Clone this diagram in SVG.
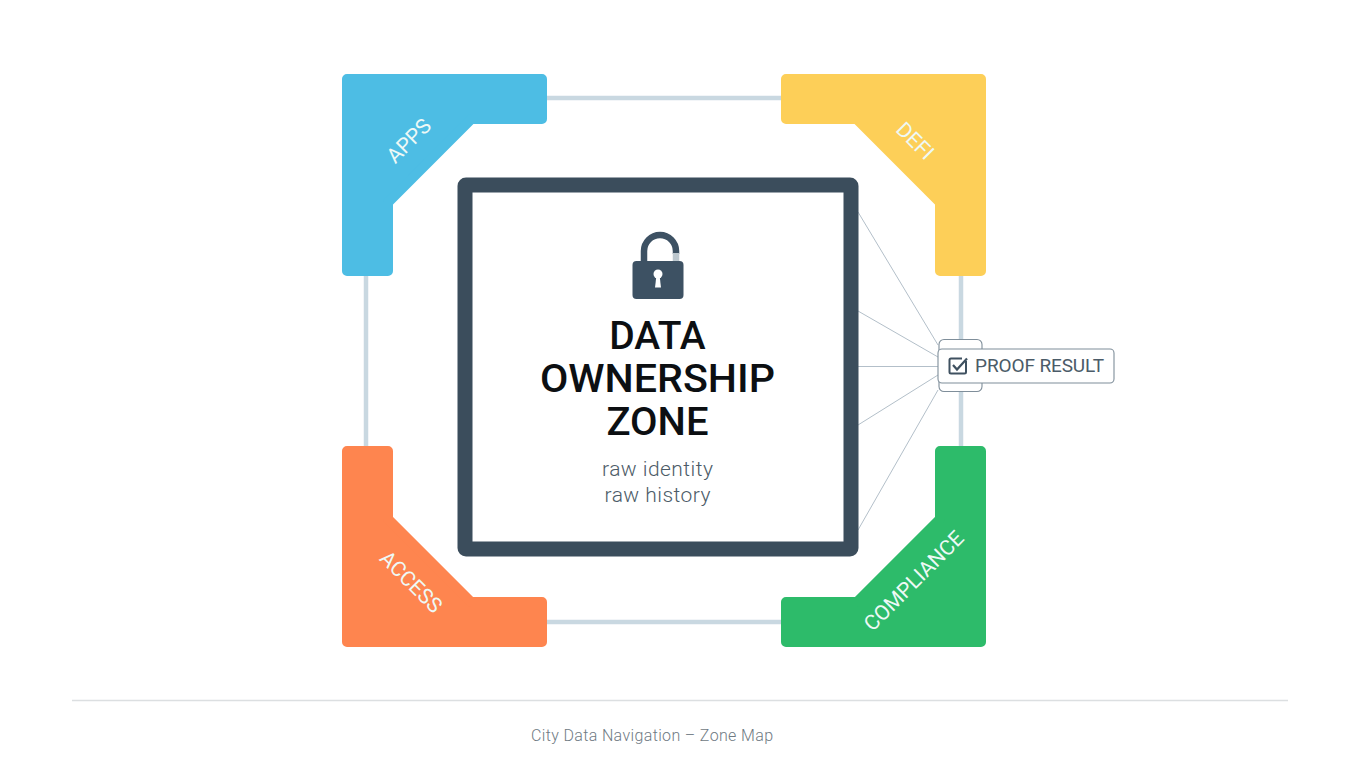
<svg xmlns="http://www.w3.org/2000/svg" width="1360" height="768" viewBox="0 0 1360 768">
<style>
text{font-family:Roboto,"Liberation Sans",sans-serif}
.zone{stroke-width:10;stroke-linejoin:round}
.zl{fill:#eef9f6;font-size:21px;text-anchor:middle;dominant-baseline:middle}
.link{stroke:#c9d8e1;stroke-width:4.500;fill:none}
.thin{stroke:#b3bfc9;stroke-width:1;fill:none}
.box{fill:#fff;stroke:#7f8e9a;stroke-width:1.100}
</style>
<rect width="1360" height="768" fill="#fff"/>
<g id="connectors">
<path class="link" d="M547 98H781M547 622H781M366 276V446M961 276V446"/>
<path class="thin" d="M858 212L938 345M858 311L938 357M858 366.500H938M858 425L938 375M858 530L938 390"/>
</g>
<g id="apps"><path class="zone" fill="#4dbde4" stroke="#4dbde4" d="M347 79H542V119H471.400L388 202.400V271H347Z"/><text class="zl" transform="translate(410 142) rotate(-45)">APPS</text></g>
<g id="defi"><path class="zone" fill="#fdcf58" stroke="#fdcf58" d="M786 79H981V271H940V202.400L856.600 119H786Z"/><text class="zl" transform="translate(914 142) rotate(45)">DEFI</text></g>
<g id="access"><path class="zone" fill="#fe854f" stroke="#fe854f" d="M347 451H388V519L471 602H542V642H347Z"/><text class="zl" transform="translate(410 583) rotate(45)">ACCESS</text></g>
<g id="compliance"><path class="zone" fill="#2dbb6a" stroke="#2dbb6a" d="M940 451H981V642H786V602H857L940 519Z"/><text class="zl" transform="translate(915 582) rotate(-45)">COMPLIANCE</text></g>
<g id="data-ownership-zone">
<rect x="465" y="185" width="386" height="364" rx="1" fill="#fff" stroke="#3b4d5c" stroke-width="15"/>
<path d="M644 262V251a16 16 0 0 1 32 0V254" fill="none" stroke="#3d5163" stroke-width="6.500"/>
<path d="M676 253V262" fill="none" stroke="#bcc7ce" stroke-width="6.500"/>
<rect x="632.500" y="261" width="51" height="38" rx="4" fill="#3d5163"/>
<circle cx="658" cy="274" r="4.500" fill="#fff"/><path d="M656.500 275H659.500L661 287.500H655Z" fill="#fff"/>
<g font-size="39" font-weight="500" fill="#0c0f12" text-anchor="middle">
<text x="657.500" y="349">DATA</text><text x="657.500" y="392" textLength="235" lengthAdjust="spacingAndGlyphs">OWNERSHIP</text><text x="657.500" y="435" textLength="102" lengthAdjust="spacingAndGlyphs">ZONE</text></g>
<g font-size="21" font-weight="300" fill="#4d5c68" text-anchor="middle"><text x="657.500" y="476" textLength="111">raw identity</text><text x="657.500" y="502" textLength="106">raw history</text></g>
</g>
<g id="proof-result">
<rect class="box" x="939" y="339.500" width="43" height="52" rx="5"/>
<rect class="box" x="938" y="349" width="176" height="34" rx="4"/>
<path d="M966 361V372a1.500 1.500 0 0 1-1.500 1.500H951a1.500 1.500 0 0 1-1.500-1.500V360a1.500 1.500 0 0 1 1.500-1.500H962" fill="none" stroke="#3f5160" stroke-width="2"/>
<path d="M953 365L957 369.500L967 358.500" fill="none" stroke="#3f5160" stroke-width="2.200"/>
<text x="975" y="372" font-size="19" fill="#4b5b68" textLength="129">PROOF RESULT</text>
</g>
<g id="footer">
<path d="M72 700.500H1288" stroke="#dcdfe1" stroke-width="1.500"/>
<text x="531" y="741" font-size="16" font-weight="300" fill="#6f7a83" textLength="242">City Data Navigation – Zone Map</text>
</g>
</svg>
